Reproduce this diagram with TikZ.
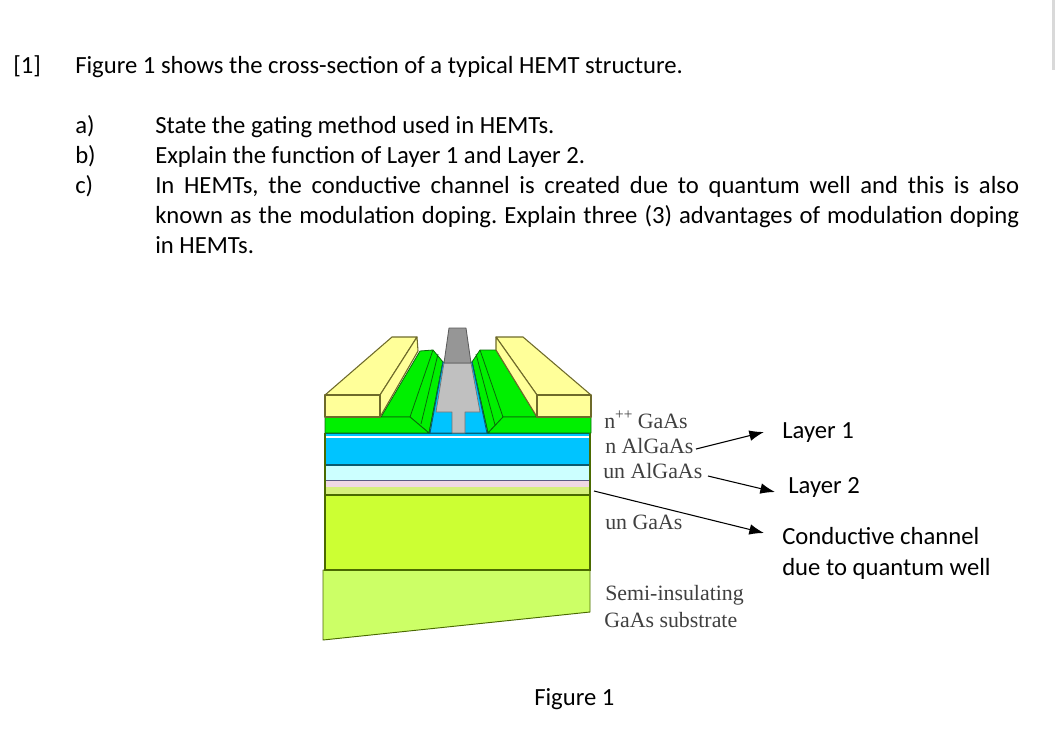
\documentclass[tikz,border=0pt]{standalone}
\usepackage{fontspec}
\setmainfont{Carlito}
\newfontfamily\figserif{Liberation Serif}
\definecolor{ygold}{HTML}{FFFF99}
\definecolor{yedge}{HTML}{6E6A2A}
\definecolor{grn}{HTML}{00F000}
\definecolor{grnedge}{HTML}{0A6A0A}
\definecolor{blu}{HTML}{00C4FF}
\definecolor{bluedge}{HTML}{0A5A70}
\definecolor{pale}{HTML}{CCFFFF}
\definecolor{pnk}{HTML}{F0D8E4}
\definecolor{lgrn}{HTML}{D6F07C}
\definecolor{yg}{HTML}{CCFF33}
\definecolor{sub}{HTML}{CCFF66}
\definecolor{ygedge}{HTML}{4A6A00}
\definecolor{gatedk}{HTML}{969696}
\definecolor{gatelt}{HTML}{C0C0C0}
\definecolor{lab}{HTML}{404040}
\usetikzlibrary{arrows.meta}
\tikzset{
 x=0.75pt,y=-0.75pt,
 txt/.style={anchor=base west,inner sep=0pt,font=\fontsize{18.5}{22.5}\selectfont,text=black},
 fig/.style={anchor=base west,inner sep=0pt,font=\figserif\fontsize{16.4}{18}\selectfont,text=lab},
 ydraw/.style={draw=yedge,fill=ygold,line width=0.8pt,line join=round},
 gdraw/.style={draw=grnedge,fill=grn,line width=0.6pt,line join=round},
 bdraw/.style={draw=bluedge,fill=blu,line width=0.7pt,line join=round},
 fac/.style={draw=grnedge,line width=0.6pt},
 ptr/.style={draw=black,line width=0.8pt,-{Latex[length=11pt,width=8pt]}},
}
\frenchspacing
\begin{document}
\begin{tikzpicture}
\useasboundingbox (0,0) rectangle (1055,729);
\fill[white] (0,0) rectangle (1055,729);
\fill[black!15] (1052,0) rectangle (1055,70);

% question text
\node[txt] (num) at (13,73) {[1]};
\node[txt] (intro) at (75,73) {Figure 1 shows the cross-section of a typical HEMT structure.};
\node[txt] (la) at (75,133) {a)};
\node[txt] (lb) at (75,163) {b)};
\node[txt] (lc) at (75,193) {c)};
\node[txt] (qa) at (155,133) {State the gating method used in HEMTs.};
\node[txt] (qb) at (155,163) {Explain the function of Layer 1 and Layer 2.};
\node[txt] (qc1) at (155,193) {\makebox[648pt][s]{In HEMTs, the conductive channel is created due to quantum well and this is also}};
\node[txt] (qc2) at (155,223) {\makebox[648pt][s]{known as the modulation doping. Explain three (3) advantages of modulation doping}};
\node[txt] (qc3) at (155,253) {in HEMTs.};

% substrate and layers
\draw[draw=ygedge,fill=sub,line width=0.7pt,line join=round] (323,570)--(590,570)--(590,612)--(323,640)--cycle;
\draw[draw=ygedge,fill=yg,line width=0.9pt] (325,495) rectangle (590,570);
\fill[lgrn] (325,487) rectangle (590,495);
\fill[pnk] (325,480) rectangle (590,487);
\fill[pale] (325,465) rectangle (590,480);
\draw[draw=black!45!blue!30!gray,line width=0.7pt] (325,480)--(590,480);
\fill[blu] (325,433) rectangle (590,465);
\draw[white,line width=1pt] (325,437)--(590,437);
\draw[bluedge,line width=0.8pt] (325,465)--(590,465);
\draw[bluedge,line width=0.9pt] (325,433)--(590,433);
\draw[draw=ygedge,line width=0.8pt] (325,495)--(325,433) (590,495)--(590,433);
\draw[draw=ygedge,line width=0.9pt] (325,495)--(590,495);

% green cap, left and right
\draw[gdraw] (381,417)--(420,351)--(433,350)--(443,362)--(429,433)--(410,417)--cycle;
\draw[gdraw] (325,417)--(410,417)--(429,433)--(325,433)--cycle;
\draw[fac] (410,417)--(433,350) (421,424)--(438,354) (429,433)--(443,362);
\draw[gdraw] (537,417)--(496,350)--(480,350)--(472,362)--(488,433)--(503,417)--cycle;
\draw[gdraw] (591,417)--(503,417)--(488,433)--(591,433)--cycle;
\draw[fac] (503,417)--(480,350) (495,425)--(476,354) (488,433)--(472,362);

% gate
\draw[bdraw] (443,362)--(430,433)--(487,433)--(472,362)--cycle;
\draw[draw=gatelt!60!black,fill=gatelt,line width=0.5pt,line join=round] (444,363)--(471,363)--(480,412)--(465,412)--(465,433)--(452,433)--(452,412)--(436,412)--cycle;
\draw[draw=gatedk!60!black,fill=gatedk,line width=0.6pt,line join=round] (449,328)--(466,328)--(471,363)--(444,363)--cycle;

% yellow contacts
\draw[ydraw] (325,395)--(392,337)--(417,337)--(380,395)--cycle;
\draw[ydraw] (380,395)--(417,337)--(418,351)--(380,417)--cycle;
\draw[ydraw] (325,395) rectangle (380,417);
\draw[ydraw] (537,395)--(496,337)--(523,337)--(591,395)--cycle;
\draw[ydraw] (537,395)--(496,337)--(496,350)--(537,417)--cycle;
\draw[ydraw] (537,395) rectangle (591,417);

% material labels
\node[fig] (m1) at (604,428) {n\textsuperscript{++}\hspace{3.5pt}GaAs};
\node[fig] (m2) at (605,453) {n AlGaAs};
\node[fig] (m3) at (603,478) {un AlGaAs};
\node[fig] (m4) at (605,529) {un GaAs};
\node[fig] (m5) at (605,600) {Semi-insulating};
\node[fig] (m6) at (604,627) {GaAs substrate};

% callouts
\node[txt] (l1) at (782,438) {Layer 1};
\node[txt] (l2) at (788,493) {Layer 2};
\node[txt] (c1) at (782,544) {Conductive channel};
\node[txt] (c2) at (782,575) {due to quantum well};
\node[txt] (figcap) at (534,705) {Figure 1};

\coordinate (a1s) at (696,449); \coordinate (a1e) at (764,432);
\coordinate (a2s) at (708,476); \coordinate (a2e) at (775,492);
\coordinate (a3s) at (594,491); \coordinate (a3e) at (764,533);
\draw[ptr] (a1s)--(a1e);
\draw[ptr] (a2s)--(a2e);
\draw[ptr] (a3s)--(a3e);
\end{tikzpicture}
\end{document}
